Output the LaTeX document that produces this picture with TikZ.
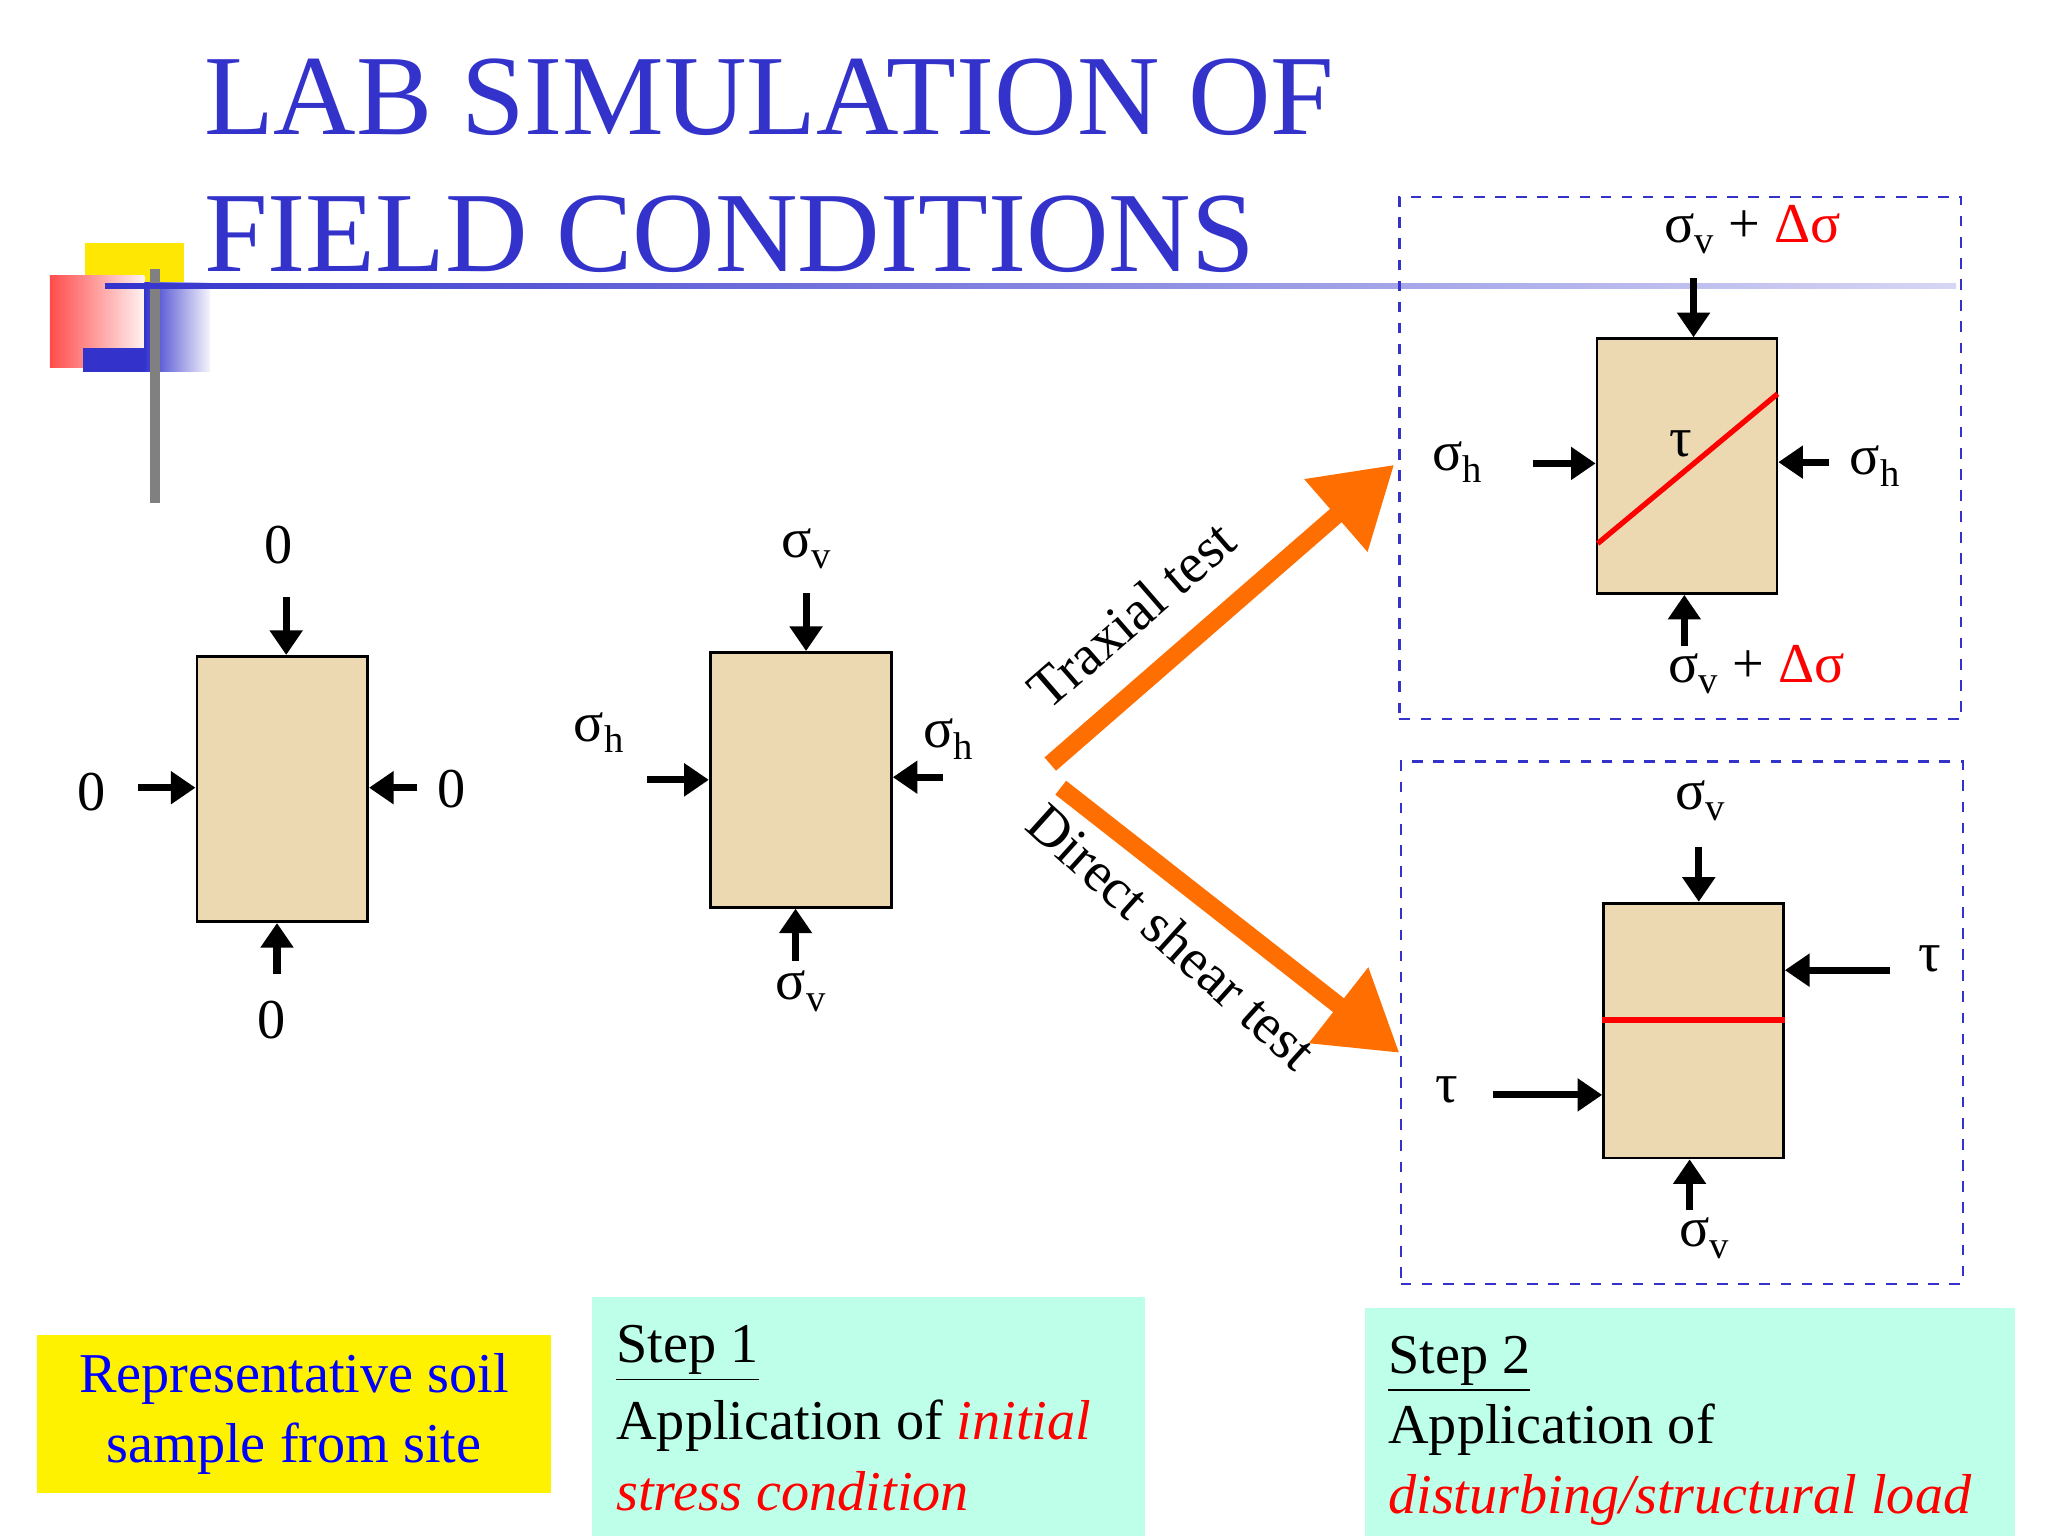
\documentclass[tikz,border=0pt]{standalone}
\usepackage{fontspec}
\setmainfont{Liberation Serif}
\usetikzlibrary{arrows.meta}
\definecolor{ttl}{RGB}{51,51,204}
\definecolor{soil}{RGB}{236,217,178}
\definecolor{mint}{RGB}{190,255,234}
\definecolor{org}{RGB}{255,110,0}
\newcommand{\sg}[1]{σ\raisebox{-0.45ex}{\fontsize{11}{11}\selectfont #1}}
\newcommand{\px}[1]{#1*0.01313cm}
\tikzset{
 lbl/.style={font=\fontsize{16}{18}\selectfont},
 sample/.style={draw=black,fill=soil,line width=0.8pt,inner sep=0},
 force/.style={line width=2pt,-{Triangle[length=7pt,width=9pt]}},
 big/.style={line width=5pt,org,-{Triangle[length=22pt,width=26pt]}},
 dbox/.style={draw=ttl,dashed,line width=0.6pt,inner sep=0},
 txt/.style={font=\fontsize{16}{20}\selectfont,align=left,anchor=north west}
}
\begin{document}
\begin{tikzpicture}[x=0.01313cm,y=-0.01313cm]
\useasboundingbox (0,0) rectangle (1560,1170);
\fill[white] (0,0) rectangle (1560,1170);
% logo
\fill[yellow!90!orange] (65,185) rectangle (140,260);
\shade[left color=red!70,right color=red!5] (38,210) rectangle (110,280);
\fill[ttl] (63,265) rectangle (140,283);
\shade[left color=ttl,right color=ttl!5] (110,215) rectangle (160,283);
\draw[gray,line width=3pt] (118,205) -- (118,383);
\shade[left color=ttl,right color=ttl!20] (80,216) rectangle (1490,220);
\node[anchor=west,text=ttl,font=\fontsize{32.5}{39}\selectfont,align=left] (title) at (146,126) {LAB SIMULATION OF\\FIELD CONDITIONS};
% sample 1
\node[sample,minimum width={\px{130}},minimum height={\px{202}}] (s1) at (215,601) {};
\coordinate (a1t) at (218,455); \draw[force] (a1t) -- (s1.north -| a1t);
\node[lbl] (l1t) at (212,415) {0};
\coordinate (a1l) at (105,600); \draw[force] (a1l) -- (s1.west |- a1l);
\node[lbl] (l1l) at (70,603) {0};
\coordinate (a1r) at (318,600); \draw[force] (a1r) -- (s1.east |- a1r);
\node[lbl] (l1r) at (344,601) {0};
\coordinate (a1b) at (211,742); \draw[force] (a1b) -- (s1.south -| a1b);
\node[lbl] (l1b) at (207,777) {0};
% sample 2
\node[sample,minimum width={\px{138}},minimum height={\px{194}}] (s2) at (610,594) {};
\coordinate (a2t) at (614,452); \draw[force] (a2t) -- (s2.north -| a2t);
\node[lbl] (l2t) at (614,418) {\sg{v}};
\coordinate (a2l) at (493,594); \draw[force] (a2l) -- (s2.west |- a2l);
\node[lbl] (l2l) at (456,558) {\sg{h}};
\coordinate (a2r) at (718,592); \draw[force] (a2r) -- (s2.east |- a2r);
\node[lbl] (l2r) at (722,563) {\sg{h}};
\coordinate (a2b) at (606,732); \draw[force] (a2b) -- (s2.south -| a2b);
\node[lbl] (l2b) at (610,755) {\sg{v}};
% big arrows
\coordinate (o1) at (800,582); \coordinate (e1) at (1062,354);
\coordinate (o2) at (808,600); \coordinate (e2) at (1066,802);
\draw[big] (o1) -- (e1);
\draw[big] (o2) -- (e2);
\node[lbl,rotate=41] (tt) at (862,468) {Traxial test};
\node[lbl,rotate=-42] (dt) at (893,713) {Direct shear test};
% box 1
\node[dbox,minimum width={\px{428}},minimum height={\px{398}}] (b1) at (1280,349) {};
\node[sample,minimum width={\px{137}},minimum height={\px{194}}] (s3) at (1285,355) {};
\draw[red,line width=1.5pt] (1217,414) -- (1354,300);
\node[lbl] (tau1) at (1280,338) {τ};
\coordinate (a3t) at (1290,212); \draw[force] (a3t) -- (s3.north -| a3t);
\node[lbl] (l3t) at (1335,175) {\sg{v} + \textcolor{red}{Δσ}};
\coordinate (a3l) at (1168,353); \draw[force] (a3l) -- (s3.west |- a3l);
\node[lbl] (l3l) at (1110,352) {\sg{h}};
\coordinate (a3r) at (1393,352); \draw[force] (a3r) -- (s3.east |- a3r);
\node[lbl] (l3r) at (1428,355) {\sg{h}};
\coordinate (a3b) at (1283,492); \draw[force] (a3b) -- (s3.south -| a3b);
\node[lbl] (l3b) at (1338,510) {\sg{v} + \textcolor{red}{Δσ}};
% box 2
\node[dbox,minimum width={\px{428}},minimum height={\px{398}}] (b2) at (1281,779) {};
\node[sample,minimum width={\px{137}},minimum height={\px{194}}] (s4) at (1290,785) {};
\draw[red,line width=1.5pt] (s4.west |- 0,777) -- (s4.east |- 0,777);
\coordinate (a4t) at (1294,645); \draw[force] (a4t) -- (s4.north -| a4t);
\node[lbl] (l4t) at (1295,610) {\sg{v}};
\coordinate (a4r) at (1440,739); \draw[force] (a4r) -- (s4.east |- a4r);
\node[lbl] (l4r) at (1470,730) {τ};
\coordinate (a4l) at (1137,834); \draw[force] (a4l) -- (s4.west |- a4l);
\node[lbl] (l4l) at (1102,830) {τ};
\coordinate (a4b) at (1287,922); \draw[force] (a4b) -- (s4.south -| a4b);
\node[lbl] (l4b) at (1298,943) {\sg{v}};
% bottom boxes
\node[fill=yellow,minimum width={\px{392}},minimum height={\px{120}},inner sep=0,text=blue,align=center,font=\fontsize{16}{20}\selectfont] (yb) at (224,1077) {Representative soil\\sample from site};
\node[fill=mint,minimum width={\px{421}},minimum height={\px{182}},inner sep=0] (st1) at (661.5,1079) {};
\node[txt] (st1t) at (460,1000) {\underline{Step 1}\\[2pt]Application of \textcolor{red}{\itshape initial}\\\textcolor{red}{\itshape stress condition}};
\node[fill=mint,minimum width={\px{495}},minimum height={\px{174}},inner sep=0] (st2) at (1287.5,1083) {};
\node[txt] (st2t) at (1048,1008) {\underline{Step 2}\\Application of\\\textcolor{red}{\itshape disturbing/structural load}};
\end{tikzpicture}
\end{document}
